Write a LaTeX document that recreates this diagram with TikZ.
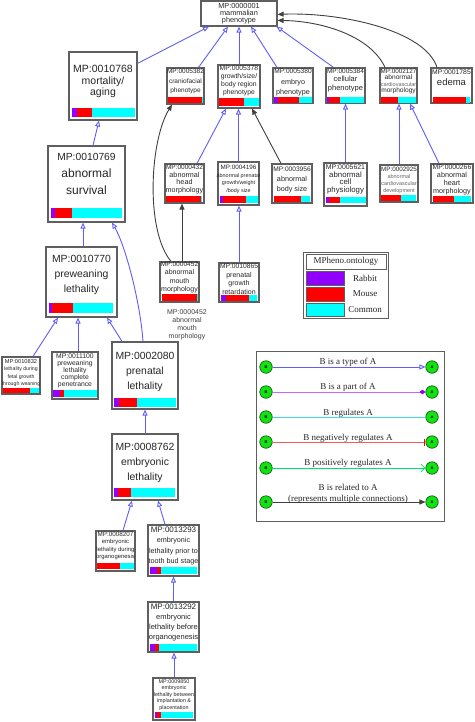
\documentclass[tikz,border=0pt]{standalone}
\usepackage{fontspec}
\setmainfont{Liberation Sans}
\newfontfamily\serifleg{Liberation Serif}
\usetikzlibrary{arrows.meta,fit,calc}
\definecolor{isablue}{RGB}{95,95,245}
\definecolor{cpurple}{RGB}{145,0,255}
\definecolor{cred}{RGB}{255,0,0}
\definecolor{ccyan}{RGB}{0,255,255}
\definecolor{boxgray}{RGB}{95,95,95}
\definecolor{partcol}{RGB}{200,100,255}
\definecolor{regcol}{RGB}{60,215,245}
\definecolor{negcol}{RGB}{245,90,90}
\definecolor{poscol}{RGB}{0,225,110}
\definecolor{nodegreen}{RGB}{20,225,20}
\newcommand\fs[2]{\fontsize{#1}{#2}\selectfont}
\newcommand\mpbar[6]{%
  \fill[cpurple] (#3,#1) rectangle (#4,#2);
  \fill[cred] (#4,#1) rectangle (#5,#2);
  \fill[ccyan] (#5,#1) rectangle (#6,#2);}
\tikzset{
  mpbox/.style={draw=boxgray, line width=1.2pt, fill=white, inner sep=0pt},
  txt/.style={align=center, inner sep=0pt, text=black!85},
  isa/.style={draw=isablue, line width=0.9pt, -{Triangle[open, length=6pt, width=5pt, fill=white]}},
  rel/.style={draw=black!75, line width=0.9pt, -{Triangle[length=6pt, width=5pt]}},
  legtxt/.style={font=\serifleg\fs{9}{10.5}, align=center, inner sep=0pt, text=black!85},
  ab/.style={circle, draw=black!70!green, line width=0.6pt, fill=nodegreen, minimum size=12.5pt, inner sep=0pt, font=\fs{4}{4}\bfseries},
}
\begin{document}
\begin{tikzpicture}[x=1pt, y=-1pt]
\useasboundingbox (0,0) rectangle (474,722);
\fill[white] (0,0) rectangle (474,722);

% ---------- boxes ----------
\node[mpbox, fit={(201,1) (277,26)}] (n1) {};
\node[txt, font=\fs{7.3}{7}] at (239,14) {MP:0000001\\mammalian\\phenotype};

\node[mpbox, fit={(69,52) (137,120)}] (n10768) {};
\node[txt, font=\fs{10.5}{11.5}] at (103,81.5) {MP:0010768\\mortality/\\aging};
\mpbar{108}{117}{72}{77}{92}{135}

\node[mpbox, fit={(48,146) (125,222)}] (n10769) {};
\node[txt, font=\fs{12}{17}] at (86.5,174) {{\fs{10.3}{15}MP:0010769}\\abnormal\\survival};
\mpbar{208}{218}{51}{55}{72}{122}

\node[mpbox, fit={(46,247) (117,317)}] (n10770) {};
\node[txt, font=\fs{10.4}{15}] at (81.5,275) {MP:0010770\\preweaning\\lethality};
\mpbar{303}{313}{49}{52}{73}{113}

\node[mpbox, fit={(2,357) (40,394)}] (n10832) {};
\node[txt, font=\fs{5.2}{7.3}] at (21,373) {{\fs{5.7}{7.3}MP:0010832}\\lethality during\\fetal growth\\through weaning};
\mpbar{388}{393}{3}{3}{30}{39}

\node[mpbox, fit={(52,352) (98,399)}] (n11100) {};
\node[txt, font=\fs{6.8}{7}] at (75,371) {MP:0011100\\preweaning\\lethality\\complete\\penetrance};
\mpbar{390}{397}{53}{60}{64}{97}

\node[mpbox, fit={(112,342) (178,409)}] (n2080) {};
\node[txt, font=\fs{10.4}{15}] at (145,372) {MP:0002080\\prenatal\\lethality};
\mpbar{398}{407}{114}{119}{137}{176}

\node[mpbox, fit={(112,434) (178,500)}] (n8762) {};
\node[txt, font=\fs{10.4}{15}] at (145,463) {MP:0008762\\embryonic\\lethality};
\mpbar{488}{497}{114}{118}{131}{175}

\node[mpbox, fit={(96,531) (135,571)}] (n8207) {};
\node[txt, font=\fs{5.9}{7.6}] at (115.5,546) {{\fs{6.3}{7.6}MP:0008207}\\embryonic\\lethality during\\organogenesis};
\mpbar{563}{569}{97}{97}{120}{134}

\node[mpbox, fit={(148,525) (199,576)}] (n13293) {};
\node[txt, font=\fs{7.2}{10.6}] at (173.5,546) {{\fs{8}{10.6}MP:0013293}\\embryonic\\lethality prior to\\tooth bud stage};
\mpbar{567}{574}{150}{157}{161}{197}

\node[mpbox, fit={(148,602) (199,652)}] (n13292) {};
\node[txt, font=\fs{7.5}{10}] at (173.5,622) {{\fs{8}{10}MP:0013292}\\embryonic\\lethality before\\organogenesis};
\mpbar{644}{651}{150}{155}{159}{197}

\node[mpbox, fit={(153,678) (195,720)}] (n9850) {};
\node[txt, font=\fs{5.4}{6.5}] at (174,695) {MP:0009850\\embryonic\\lethality between\\implantation \&\\placentation};
\mpbar{712}{718}{155}{157}{161}{193}

\node[mpbox, fit={(167,68) (204,104)}] (n5382) {};
\node[txt, font=\fs{6.5}{9.5}] at (185.5,81.5) {MP:0005382\\craniofacial\\phenotype};
\mpbar{97}{103}{168}{168}{202}{203}

\node[mpbox, fit={(218,65) (260,108)}] (n5378) {};
\node[txt, font=\fs{6.8}{8}] at (239,81) {MP:0005378\\growth/size/\\body region\\phenotype};
\mpbar{98}{106}{219}{219}{244}{259}

\node[mpbox, fit={(273,68) (313,103)}] (n5380) {};
\node[txt, font=\fs{7.2}{10.5}] at (293,82.5) {{\fs{6.6}{10.5}MP:0005380}\\embryo\\phenotype};
\mpbar{97}{103}{274}{278}{299}{312}

\node[mpbox, fit={(326,68) (365,103)}] (n5384) {};
\node[txt, font=\fs{7.5}{8.7}] at (345.5,80.5) {{\fs{6.5}{8.7}MP:0005384}\\cellular\\phenotype};
\mpbar{97}{103}{327}{329}{340}{364}

\node[mpbox, fit={(380,68) (417,103)}] (n2127) {};
\node[txt, font=\fs{6.6}{6.4}] at (398.5,81.5) {{\fs{6.3}{6.4}MP:0002127}\\abnormal\\{\fs{5.5}{6.4}\color{black!60}cardiovascular}\\morphology};
\mpbar{97}{103}{381}{381}{398}{416}

\node[mpbox, fit={(431,68) (472,103)}] (n1785) {};
\node[txt, font=\fs{9.5}{11}] at (451.5,77.5) {{\fs{6.8}{11}MP:0001785}\\edema};
\mpbar{97}{103}{433}{433}{466}{470}

\node[mpbox, fit={(165,164) (204,203)}] (n432) {};
\node[txt, font=\fs{7.2}{7.7}] at (184.5,179.5) {{\fs{6.5}{7.7}MP:0000432}\\abnormal\\head\\morphology};
\mpbar{196}{202}{166}{166}{201}{202}

\node[mpbox, fit={(218,162) (259,205)}] (n4196) {};
\node[txt, font=\fs{5.4}{7.7}] at (238.5,179.5) {{\fs{6.3}{7.7}MP:0004196}\\abnormal prenatal\\growth/weight\\/body size};
\mpbar{196}{203}{220}{223}{246}{258}

\node[mpbox, fit={(272,164) (312,203)}] (n3956) {};
\node[txt, font=\fs{7.2}{10}] at (292,180) {{\fs{6.6}{10}MP:0003956}\\abnormal\\body size};
\mpbar{196}{202}{274}{274}{301}{310}

\node[mpbox, fit={(324,163) (367,206)}] (n5621) {};
\node[txt, font=\fs{7.8}{7.7}] at (345.5,179.5) {{\fs{6.9}{7.7}MP:0005621}\\abnormal\\cell\\physiology};
\mpbar{197}{203}{326}{329}{340}{366}

\node[mpbox, fit={(380,165) (418,202)}] (n2925) {};
\node[txt, font=\fs{5.5}{7}] at (399,180.5) {{\fs{6.3}{7}MP:0002925}\\{\color{black!60}abnormal}\\{\color{black!60}cardiovascular}\\{\color{black!60}development}};
\mpbar{195}{201}{381}{381}{401}{416}

\node[mpbox, fit={(431,164) (473,203)}] (n266) {};
\node[txt, font=\fs{7.2}{8}] at (452,180) {{\fs{6.8}{8}MP:0000266}\\abnormal\\heart\\morphology};
\mpbar{196}{202}{433}{433}{454}{471}

\node[mpbox, fit={(160,262) (199,302)}] (n452) {};
\node[txt, font=\fs{7}{8.3}] at (179.5,277.5) {{\fs{6.6}{8.3}MP:0000452}\\abnormal\\mouth\\morphology};
\mpbar{294}{301}{162}{162}{197}{198}

\node[mpbox, fit={(219,263) (259,302)}] (n10865) {};
\node[txt, font=\fs{7}{8.6}] at (239,279) {{\fs{6.7}{8.6}MP:0010865}\\prenatal\\growth\\retardation};
\mpbar{295}{301}{221}{226}{249}{257}

\node[txt, font=\fs{7}{8}, text=black!75] (lbl452) at (187,325) {MP:0000452\\abnormal\\mouth\\morphology};

% ---------- connectors ----------
\draw[isa] ([yshift=-12pt]n10768.north east) -- ([xshift=-30pt]n1.south);
\draw[isa] ([xshift=13pt]n5382.north) -- ([xshift=-11pt]n1.south);
\draw[isa] (n5378.north) -- (n1.south);
\draw[isa] ([xshift=-16pt]n5380.north) -- ([xshift=12pt]n1.south);
\draw[isa] ([xshift=-12pt]n5384.north) -- ([xshift=-1pt]n1.south east);
\draw[rel] ([xshift=-13.5pt]n2127.north) .. controls (370,35) and (320,21) .. ([yshift=-20pt]n1.north east);
\draw[rel] ([xshift=-14.5pt]n1785.north) .. controls (425,30) and (340,12) .. ([yshift=-14pt]n1.north east);
\draw[rel] ([xshift=-8.5pt]n452.north) .. controls (145,230) and (150,140) .. ([xshift=-13.5pt]n5382.south);
\draw[rel] ([xshift=2.5pt]n452.north) -- ([xshift=-2.5pt]n432.south);
\draw[isa] ([xshift=12.5pt]n432.north) -- ([xshift=-13pt]n5378.south);
\draw[isa] (n4196.north) -- (n4196.north |- n5378.south);
\draw[rel] ([xshift=-11pt]n3956.north) -- ([xshift=13pt]n5378.south);
\draw[isa] (n5621.north) -- (n5384.south);
\draw[isa] (n2925.north) -- (n2925.north |- n2127.south);
\draw[isa] ([xshift=-13pt]n266.north) -- ([xshift=11.5pt]n2127.south);
\draw[isa] (n10865.north) -- (n10865.north |- n4196.south);
\draw[isa] ([xshift=6.5pt]n10769.north) -- ([xshift=-4pt]n10768.south);
\draw[isa] ([xshift=1.5pt]n10770.north) -- ([xshift=-3.5pt]n10769.south);
\draw[isa] ([xshift=-2pt]n2080.north) .. controls (140,300) and (125,245) .. ([xshift=25.5pt]n10769.south);
\draw[isa] ([xshift=12pt]n10832.north) -- ([xshift=-23.5pt]n10770.south);
\draw[isa] ([xshift=3pt]n11100.north) -- ([xshift=-3.5pt]n10770.south);
\draw[isa] ([xshift=-23pt]n2080.north) -- ([xshift=25.5pt]n10770.south);
\draw[isa] (n8762.north) -- (n2080.south);
\draw[isa] ([xshift=7.5pt]n8207.north) -- ([xshift=-13pt]n8762.south);
\draw[isa] ([xshift=-8.5pt]n13293.north) -- ([xshift=13pt]n8762.south);
\draw[isa] (n13292.north) -- (n13292.north |- n13293.south);
\draw[isa] (n9850.north) -- (n9850.north |- n13292.south);

% ---------- ontology legend ----------
\node[draw=boxgray, line width=0.9pt, fit={(303,252) (388,318)}, inner sep=0pt] (ontleg) {};
\node[draw=boxgray, line width=0.7pt, fit={(306,254) (386,269)}, inner sep=0pt] (onttitle) {};
\node[legtxt] at (onttitle.center) {MPheno.ontology};
\node[draw=boxgray, line width=0.6pt, fill=cpurple, fit={(306,271) (344,285)}, inner sep=0pt] (swr) {};
\node[draw=boxgray, line width=0.6pt, fill=cred, fit={(306,287) (344,301)}, inner sep=0pt] (swm) {};
\node[draw=boxgray, line width=0.6pt, fill=ccyan, fit={(306,303) (344,316)}, inner sep=0pt] (swc) {};
\node[legtxt] (lr) at (365,278) {Rabbit};
\node[legtxt] (lm) at (365,294) {Mouse};
\node[legtxt] (lc) at (365,309.5) {Common};

% ---------- edge legend ----------
\node[draw=boxgray, line width=0.9pt, fit={(256,351) (444,521)}, inner sep=0pt] (edgeleg) {};
\foreach \i/\y in {1/367, 2/392, 3/417, 4/442, 5/468, 6/502}{
  \node[ab] (b\i) at (266,\y) {B};
  \node[ab] (a\i) at (432,\y) {A};
}
\draw[isa] (b1) -- (a1);
\draw[draw=partcol, line width=0.8pt, -{Diamond[color=cpurple, fill=cpurple, length=6pt, width=4.5pt]}] (b2) -- (a2);
\draw[draw=regcol, line width=0.8pt] (b3) -- (a3);
\draw[draw=negcol, line width=0.8pt, -{Bar[width=7pt, line width=1.6pt, color=red]}] (b4) -- (a4);
\draw[draw=poscol, line width=0.8pt, -{Straight Barb[length=4pt, width=8pt]}] (b5) -- (a5);
\draw[draw=black!75, line width=0.8pt, -{Triangle[length=6pt, width=5pt]}] (b6) -- (a6);
\node[legtxt] at (348,362) {B is a type of A};
\node[legtxt] at (348,387) {B is a part of A};
\node[legtxt] at (348,413) {B regulates A};
\node[legtxt] at (348,438) {B negatively regulates A};
\node[legtxt] at (348,463) {B positively regulates A};
\node[legtxt] at (348,494) {B is related to A\\(represents multiple connections)};
\end{tikzpicture}
\end{document}
